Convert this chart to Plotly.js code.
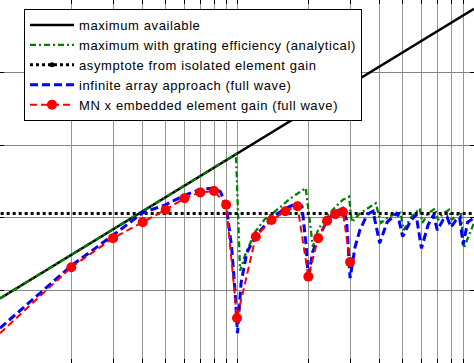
<!DOCTYPE html>
<html>
<head>
<meta charset="utf-8">
<script src="https://cdn.plot.ly/plotly-3.0.1.min.js"></script>
<style>html,body{margin:0;padding:0;background:#fff;}#chart{width:474px;height:363px;}
.legendtext{letter-spacing:0.6px;}</style>
</head>
<body>
<div id="chart"></div>
<script>
// x-axis grid tick values (log scale)
const xTicks = [2, 3, 4, 5, 6, 7, 8, 9, 10, 20, 30, 40, 50, 60, 70, 80, 90];
const yTicks = [10, 20, 30, 40];

// maximum available
const maxX = [1, 100];
const maxY = [8.9, 48.8];

// maximum with grating efficiency (analytical)
const greenX = [1, 9.9, 10.3, 10.8, 11.9, 13.1, 14.5, 16.7, 19.5, 20.9, 22, 24, 26, 28, 29.7, 30.5, 33, 35, 38.5, 40.5, 44, 49, 50.5, 54, 59, 60.5, 64, 68.5, 70.5, 74, 78.5, 80.5, 84, 88, 90.5, 100];
const greenY = [8.9, 28.8, 12.7, 14.8, 18.0, 19.8, 20.9, 22.6, 24.1, 16.0, 18.4, 20.2, 21.5, 22.5, 22.9, 19.4, 20.6, 21.1, 22.0, 19.3, 20.2, 20.7, 18.3, 20.0, 21.3, 19.3, 20.6, 21.3, 19.7, 20.6, 21.1, 19.7, 20.3, 20.7, 15.8, 19.3];

// asymptote from isolated element gain
const asymX = [0.5, 200];
const asymY = [20.6, 20.6];

// infinite array approach (full wave)
const blueX = [1, 1.5, 2, 3, 4, 5, 6, 7, 8, 8.5, 9, 9.5, 9.8, 10.05, 10.4, 11, 12, 14, 16, 18, 18.8, 19.6, 20, 20.8, 22, 24, 26, 28, 29, 30, 31.5, 33, 35.5, 37.5, 40, 43, 47.5, 50, 54, 57, 60, 64, 67.5, 70, 74, 77, 80, 84, 87, 90, 94, 100];
const blueY = [4.8, 9.9, 13.4, 17.6, 20.7, 21.8, 23.1, 23.9, 24.1, 23.6, 21.8, 15.8, 10.1, 4.1, 11.0, 15.2, 17.5, 20.0, 21.3, 22.0, 21.6, 16.0, 11.4, 15.2, 17.2, 19.6, 20.8, 21.3, 19.7, 11.7, 16.0, 18.3, 20.5, 20.9, 16.5, 19.4, 20.7, 17.4, 19.6, 20.4, 15.8, 19.0, 20.4, 18.3, 19.7, 20.1, 18.7, 19.7, 20.0, 16.3, 19.4, 20.0];

// MN x embedded element gain (full wave)
const redX = [1, 2, 3, 4, 5, 6, 7, 8, 9, 10, 12, 14, 16, 18, 20, 22, 24, 26, 28, 30];
const redY = [4.1, 13.2, 17.2, 19.4, 21.1, 22.7, 23.5, 23.7, 21.8, 6.2, 17.4, 19.7, 20.9, 21.6, 11.9, 17.2, 19.6, 20.5, 20.8, 13.9];

const traces = [
  {x: maxX, y: maxY, mode: 'lines', name: 'maximum available',
   line: {color: '#000000', width: 2.5}},
  {x: greenX, y: greenY, mode: 'lines', name: 'maximum with grating efficiency (analytical)',
   line: {color: '#008000', width: 2.3, dash: '6px,3px,2px,3px'}},
  {x: asymX, y: asymY, mode: 'lines+markers', name: 'asymptote from isolated element gain',
   line: {color: '#000000', width: 3, dash: 'dot'}, marker: {color: '#000000', size: 5}},
  {x: blueX, y: blueY, mode: 'lines', name: 'infinite array approach (full wave)',
   line: {color: '#0000ff', width: 3, dash: '8px,4px'}},
  {x: redX.slice(0, 2), y: redY.slice(0, 2), mode: 'lines', showlegend: false, hoverinfo: 'skip',
   line: {color: '#ff0000', width: 2, dash: '7px,4px'}},
  {x: redX.slice(1), y: redY.slice(1), mode: 'lines+markers', name: 'MN x embedded element gain (full wave)',
   line: {color: '#ff0000', width: 2, dash: '7px,4px'}, marker: {color: '#ff0000', size: 10}}
];

const layout = {
  width: 474, height: 363,
  margin: {l: 0, r: 0, t: 0, b: 0, pad: 0},
  paper_bgcolor: '#ffffff', plot_bgcolor: '#ffffff',
  font: {family: 'Liberation Sans, Arial, sans-serif', size: 13, color: '#000'},
  showlegend: true,
  xaxis: {type: 'log', range: [0, 2], tickvals: xTicks, showticklabels: false,
          ticks: 'inside', ticklen: 4, tickcolor: '#000', mirror: 'ticks', showline: false,
          showgrid: true, gridcolor: '#959595', gridwidth: 1, zeroline: false},
  yaxis: {range: [0, 50], tickvals: yTicks, showticklabels: false,
          ticks: 'inside', ticklen: 4, tickcolor: '#000', mirror: 'ticks', showline: false,
          showgrid: true, gridcolor: '#858585', gridwidth: 1, zeroline: false},
  legend: {x: 0.0506, y: 0.975, xanchor: 'left', yanchor: 'top',
           bgcolor: '#ffffff', bordercolor: '#000000', borderwidth: 1,
           font: {family: 'Liberation Sans, Arial, sans-serif', size: 13, color: '#000'},
           itemwidth: 44, tracegroupgap: 0}
};

Plotly.newPlot('chart', traces, layout, {staticPlot: true, displayModeBar: false});
</script>
</body>
</html>
